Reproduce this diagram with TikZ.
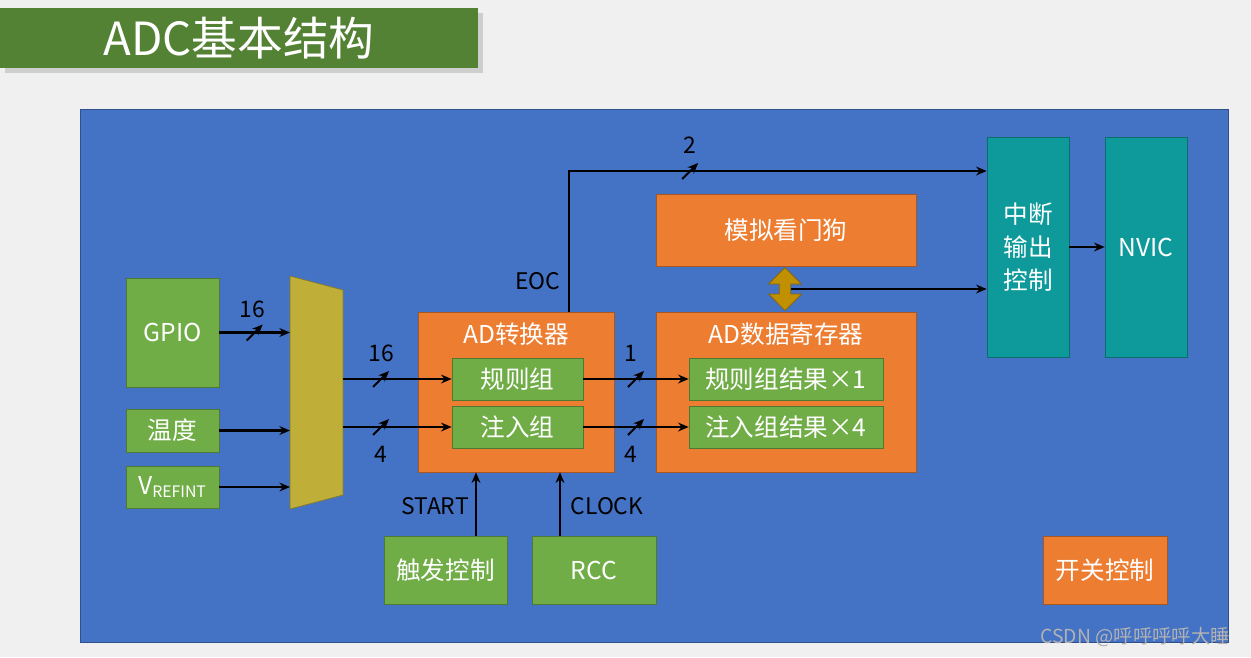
\documentclass[tikz,border=0pt]{standalone}
\usepackage{fontspec}
\setmainfont{Noto Sans CJK SC}
\usetikzlibrary{arrows.meta, shapes.arrows, shadows}
\definecolor{titlegreen}{HTML}{548235}
\definecolor{panelblue}{HTML}{4472C4}
\definecolor{boxgreen}{HTML}{70AD47}
\definecolor{boxorange}{HTML}{ED7D31}
\definecolor{boxteal}{HTML}{0E9A9A}
\definecolor{muxgold}{HTML}{BFAE37}
\definecolor{wdgold}{HTML}{C09000}
\tikzset{
    slash/.pic={\draw[line width=1.1pt] (-8,8) -- (8,-8);}
}

\begin{document}
\begin{tikzpicture}[
    x=0.02cm, y=-0.02cm,
    gbox/.style={
        rectangle,
        draw=boxgreen!70!black,
        fill=boxgreen,
        text=white,
        align=center,
        font=\fontsize{14}{17}\selectfont
    },
    obox/.style={gbox, fill=boxorange, draw=boxorange!70!black},
    tbox/.style={gbox, fill=boxteal, draw=boxteal!70!black, font=\fontsize{14}{19}\selectfont},
    lbl/.style={font=\fontsize{13}{15}\selectfont, text=black},
    wire/.style={-{Stealth[length=6pt,width=5pt]}, line width=1.2pt}
]
\useasboundingbox (0,0) rectangle (1251,657);
\fill[gray!12] (0,0) rectangle (1251,657);

% title
\node[rectangle, fill=titlegreen, drop shadow={opacity=0.3}, minimum width=9.56cm, minimum height=1.2cm,
      text=white, font=\fontsize{26}{30}\selectfont] (title) at (239,38) {ADC基本结构};

% panel
\draw[fill=panelblue, draw=panelblue!70!black] (80,109) rectangle (1228,642);

% inputs
\node[gbox, minimum width=1.86cm, minimum height=2.18cm] (gpio) at (172.5,332.5) {GPIO};
\node[gbox, minimum width=1.86cm, minimum height=0.86cm] (temp) at (172.5,430.5) {温度};
\node[gbox, minimum width=1.86cm, minimum height=0.84cm] (vref) at (172.5,487) {V\textsubscript{\fontsize{9}{10}\selectfont REFINT}};

% multiplexer
\coordinate (muxL) at (290,0);
\coordinate (muxR) at (343,0);
\draw[fill=muxgold, draw=muxgold!70!black] (290,276) -- (343,290) -- (343,495) -- (290,509) -- cycle;

% converter
\node[obox, minimum width=3.92cm, minimum height=3.2cm] (adc) at (516,392) {};
\node[lbl, text=white, font=\fontsize{14}{17}\selectfont] (adct) at (516,334) {AD转换器};
\node[gbox, minimum width=2.62cm, minimum height=0.84cm] (reg) at (517.5,379) {规则组};
\node[gbox, minimum width=2.62cm, minimum height=0.84cm] (inj) at (517.5,427) {注入组};

% data register
\node[obox, minimum width=5.2cm, minimum height=3.2cm] (dr) at (786,392) {};
\node[lbl, text=white, font=\fontsize{14}{17}\selectfont] (drt) at (786,334) {AD数据寄存器};
\node[gbox, minimum width=3.88cm, minimum height=0.84cm] (regr) at (786,379) {规则组结果×1};
\node[gbox, minimum width=3.88cm, minimum height=0.84cm] (injr) at (786,427) {注入组结果×4};

% watchdog, interrupt
\node[obox, minimum width=5.2cm, minimum height=1.44cm] (wdog) at (786,230) {模拟看门狗};
\node[tbox, minimum width=1.64cm, minimum height=4.4cm] (irq) at (1028,247) {中断\\输出\\控制};
\node[tbox, minimum width=1.64cm, minimum height=4.4cm] (nvic) at (1146,247) {NVIC};

% bottom
\node[gbox, minimum width=2.46cm, minimum height=1.36cm] (trig) at (445.5,570) {触发控制};
\node[gbox, minimum width=2.48cm, minimum height=1.36cm] (rcc) at (594,570) {RCC};
\node[obox, minimum width=2.48cm, minimum height=1.36cm] (sw) at (1105,570) {开关控制};

% inputs to mux
\draw[wire] (gpio.east) -- pic[pos=.5]{slash} (gpio.east -| muxL);
\node[lbl] (n16a) at (252,309) {16};
\draw[wire] (temp.east) -- (temp.east -| muxL);
\draw[wire] (vref.east) -- (vref.east -| muxL);

% mux to converter
\draw[wire] (muxR |- reg.west) -- pic[pos=.35]{slash} (reg.west);
\node[lbl] (n16b) at (381,353) {16};
\draw[wire] (muxR |- inj.west) -- pic[pos=.35]{slash} (inj.west);
\node[lbl] (n4a) at (381,454) {4};

% converter to register
\draw[wire] (reg.east) -- pic[pos=.5]{slash} (regr.west);
\node[lbl] (n1) at (631,353) {1};
\draw[wire] (inj.east) -- pic[pos=.5]{slash} (injr.west);
\node[lbl] (n4b) at (631,454) {4};

% EOC
\coordinate (eocs) at (569,312);
\coordinate (eoct) at (569,171);
\draw[wire] (eocs) -- (eoct) -- pic[pos=.29]{slash} (eoct -| irq.west);
\node[lbl] (n2) at (690,145) {2};
\node[lbl] (eoc) at (538,281) {EOC};

% watchdog link
\node[double arrow, shape border rotate=90, fill=wdgold, draw=wdgold!70!black,
      minimum height=0.86cm, minimum width=0.66cm, double arrow head extend=0.08cm,
      inner sep=1pt] (wdlink) at (785,289) {};
\draw[wire] (wdlink.east) -- (wdlink.east -| irq.west);
\draw[wire] (irq.east) -- (nvic.west);

% trigger and clock
\draw[wire] (trig.north -| 476,0) -- (adc.south -| 476,0);
\node[lbl] (start) at (435,506) {START};
\draw[wire] (rcc.north -| 560,0) -- (adc.south -| 560,0);
\node[lbl] (clock) at (607,506) {CLOCK};

\node[text=gray!60, font=\fontsize{11}{13}\selectfont, anchor=east] (mark) at (1236,637) {CSDN @呼呼呼呼大睡};
\end{tikzpicture}
\end{document}
